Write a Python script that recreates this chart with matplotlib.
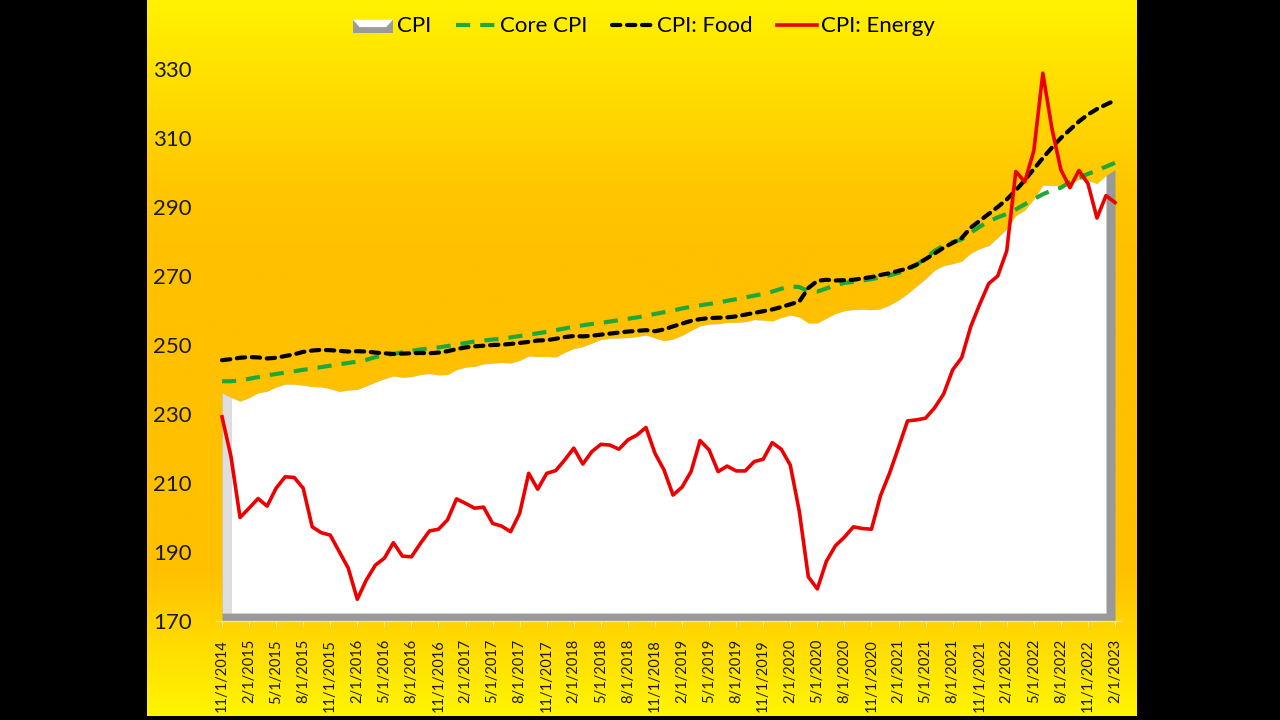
import numpy as np
import pandas as pd
import matplotlib
matplotlib.use("Agg")
import matplotlib.pyplot as plt
from matplotlib.colors import LinearSegmentedColormap
from matplotlib.lines import Line2D
from matplotlib.patches import Patch, Polygon

plt.rcParams["font.family"] = ["Lato", "DejaVu Sans"]

# monthly series, 11/1/2014 .. 2/1/2023
dates = pd.date_range("2014-11-01", periods=100, freq="MS")

cpi = [
    236.15, 234.81,
    233.71, 234.72, 236.12, 236.60, 237.81, 238.64, 238.65, 238.32, 237.95, 237.84, 237.34, 236.53,
    236.92, 237.11, 238.13, 239.26, 240.23, 241.02, 240.63, 240.85, 241.43, 241.73, 241.35, 241.43,
    242.84, 243.60, 243.80, 244.52, 244.73, 244.96, 244.79, 245.52, 246.82, 246.66, 246.67, 246.52,
    247.87, 248.99, 249.55, 250.55, 251.59, 251.99, 252.01, 252.15, 252.44, 252.89, 252.04, 251.23,
    251.71, 252.78, 254.20, 255.55, 256.09, 256.14, 256.57, 256.56, 256.76, 257.35, 257.21, 256.97,
    257.97, 258.68, 258.12, 256.39, 256.39, 257.80, 259.10, 259.92, 260.28, 260.39, 260.23, 260.47,
    261.58, 263.01, 264.88, 267.05, 269.20, 271.70, 273.00, 273.57, 274.31, 276.59, 277.95, 278.80,
    281.15, 283.72, 287.50, 289.11, 292.30, 296.31, 296.28, 296.17, 296.81, 298.01, 297.71, 296.80,
    299.17, 300.84,
]

core_cpi = [
    239.5, 239.5,
    239.7, 240.2, 240.7, 241.2, 241.6, 242.0, 242.4, 242.8, 243.2, 243.6, 244.0, 244.4,
    244.8, 245.2, 245.7, 246.5, 247.0, 247.4, 247.9, 248.3, 248.7, 249.0, 249.3, 249.7,
    250.1, 250.6, 251.0, 251.3, 251.6, 251.8, 252.2, 252.6, 253.0, 253.4, 253.8, 254.3,
    254.8, 255.3, 255.7, 256.1, 256.4, 256.8, 257.2, 257.6, 258.0, 258.5, 259.0, 259.5,
    260.0, 260.6, 261.1, 261.5, 261.9, 262.3, 262.8, 263.3, 263.8, 264.3, 264.8, 265.5,
    266.3, 267.0, 266.8, 265.6, 265.5, 266.4, 267.3, 268.0, 268.3, 268.7, 269.1, 269.6,
    270.2, 270.9, 271.8, 273.2, 275.2, 277.3, 278.8, 279.8, 280.6, 282.5, 284.3, 285.8,
    287.0, 288.0, 289.3, 290.8, 292.3, 293.7, 294.8, 295.6, 297.2, 298.5, 299.6, 300.6,
    301.7, 302.8,
]

cpi_food = [
    245.6, 245.9,
    246.3, 246.5, 246.4, 246.1, 246.3, 246.8, 247.3, 248.0, 248.4, 248.6, 248.5, 248.3,
    248.1, 248.2, 248.1, 247.8, 247.6, 247.4, 247.5, 247.6, 247.7, 247.6, 247.8, 248.2,
    248.8, 249.3, 249.6, 249.8, 250.0, 250.1, 250.3, 250.6, 250.9, 251.3, 251.4, 251.8,
    252.3, 252.6, 252.5, 252.7, 253.0, 253.3, 253.6, 253.9, 254.1, 254.3, 254.0, 254.5,
    255.4, 256.2, 257.0, 257.5, 257.8, 257.9, 258.0, 258.3, 258.8, 259.3, 259.8, 260.3,
    261.0, 261.8, 262.6, 266.5, 268.6, 268.9, 268.7, 268.8, 268.9, 269.3, 269.7, 270.3,
    270.8, 271.5, 272.2, 273.3, 274.9, 276.5, 278.2, 279.6, 281.0, 284.0, 286.0, 288.0,
    290.0, 292.2, 294.8, 297.8, 301.0, 304.2, 307.2, 310.0, 312.4, 314.8, 316.8, 318.4,
    319.7, 320.9,
]

cpi_energy = [
    229.2, 217.6,
    200.0, 202.7, 205.5, 203.3, 208.5, 211.8, 211.6, 208.5, 197.3, 195.6, 194.9, 190.1,
    185.3, 176.3, 181.9, 186.2, 188.2, 192.7, 188.8, 188.6, 192.5, 196.1, 196.6, 199.3,
    205.4, 204.1, 202.7, 203.0, 198.3, 197.5, 195.9, 201.2, 212.8, 208.2, 212.8, 213.6,
    216.7, 220.1, 215.5, 219.1, 221.2, 221.0, 219.8, 222.5, 223.9, 226.1, 218.6, 213.8,
    206.5, 208.8, 213.3, 222.3, 219.6, 213.3, 214.9, 213.5, 213.5, 216.2, 216.9, 221.7,
    219.8, 215.2, 201.8, 182.8, 179.3, 187.3, 191.8, 194.3, 197.3, 196.8, 196.6, 206.3,
    212.8, 220.3, 228.0, 228.3, 228.8, 231.8, 235.8, 242.8, 246.3, 255.3, 261.8, 267.8,
    270.0, 277.3, 300.3, 297.3, 306.3, 328.8, 312.8, 300.8, 295.6, 300.6, 296.8, 286.8,
    293.3, 291.3,
]

y_ticks = [170, 190, 210, 230, 250, 270, 290, 310, 330]
x_labels = [f"{d.month}/1/{d.year}" for d in dates[::3]]

W, H = 1280, 720
Y_MIN, Y_MAX = 170, 330
FLOOR = 172.3  # thickness of the 3D floor, in data units


class BevelHandler:
    """Legend key that looks like the bevelled 3D area swatch."""

    def legend_artist(self, legend, orig_handle, fontsize, handlebox):
        x0, y0 = handlebox.xdescent, handlebox.ydescent
        w, h = handlebox.width, handlebox.height
        box = Polygon([[x0, y0], [x0 + w, y0], [x0 + w, y0 + h], [x0, y0 + h]],
                      closed=True, facecolor="#9a9a9a", edgecolor="none",
                      transform=handlebox.get_transform())
        top = Polygon([[x0, y0 + h], [x0 + w, y0 + h], [x0 + w - h * 0.5, y0 + h * 0.45],
                       [x0 + h * 0.5, y0 + h * 0.45]],
                      closed=True, facecolor="white", edgecolor="none",
                      transform=handlebox.get_transform())
        handlebox.add_artist(box)
        handlebox.add_artist(top)
        return box


fig = plt.figure(figsize=(W / 100, H / 100), dpi=100, facecolor="black")

# yellow -> orange -> yellow background
bg_cmap = LinearSegmentedColormap.from_list("bg", [
    (0.00, "#fff200"),
    (0.10, "#ffe100"),
    (0.25, "#ffc800"),
    (0.35, "#ffc000"),
    (0.80, "#ffc000"),
    (0.88, "#ffd600"),
    (1.00, "#fff500"),
])
bg = fig.add_axes([147 / W, 4 / H, (1137 - 147) / W, 716 / H])
bg.imshow(np.linspace(0, 1, 256).reshape(-1, 1), cmap=bg_cmap, aspect="auto",
          extent=[0, 1, 0, 1])
bg.axis("off")

# plot area: category 0 at x=222px, category 99 at x=1115px
px_per_cat = (1115 - 222) / 99
x_lo, x_hi = -0.7, 99.7
left_px = 222 + x_lo * px_per_cat
right_px = 222 + x_hi * px_per_cat
ax = fig.add_axes([left_px / W, (H - 621) / H, (right_px - left_px) / W, (621 - 69) / H])
ax.patch.set_alpha(0)

idx = np.arange(len(dates))
cpi_arr = np.array(cpi)

# 3D looking CPI area: dark back/floor, light left wall, white front face
ax.fill_between(idx, Y_MIN, cpi_arr, color="#999999", lw=0, zorder=1)
ax.fill_between(idx[:2], FLOOR, cpi_arr[:2], color="#dedede", lw=0, zorder=2)
ax.fill_between(idx[1:99], FLOOR, cpi_arr[1:99], color="white", lw=0, zorder=2)

ax.plot(idx, core_cpi, color="#1fa83a", lw=3.0, dashes=(3.4, 2.4), zorder=3)
ax.plot(idx, cpi_food, color="black", lw=3.0, dashes=(2.0, 1.6),
        dash_capstyle="round", zorder=4)
ax.plot(idx, cpi_energy, color="#ec0000", lw=2.6, zorder=5)

ax.set_xlim(x_lo, x_hi)
ax.set_ylim(Y_MIN, Y_MAX)
ax.set_yticks(y_ticks)
ax.set_yticklabels([str(v) for v in y_ticks], fontsize=16, color="#1a1a1a")
ax.tick_params(axis="y", length=0, pad=17)
ax.set_xticks(idx[::3])
ax.set_xticklabels(x_labels, rotation=90, fontsize=10.5, color="#1a1a1a")
ax.tick_params(axis="x", length=4, color="#f3e3a0", pad=9)

for side in ["top", "right", "left"]:
    ax.spines[side].set_visible(False)
ax.spines["bottom"].set_color("#f3e3a0")
ax.spines["bottom"].set_linewidth(1)

cpi_key = Patch(label="CPI")
handles = [
    cpi_key,
    Line2D([], [], color="#1fa83a", lw=3.0, dashes=(3.4, 2.4), label="Core CPI"),
    Line2D([], [], color="black", lw=3.0, dashes=(2.0, 1.6), dash_capstyle="round",
           label="CPI: Food"),
    Line2D([], [], color="#ec0000", lw=2.6, label="CPI: Energy"),
]
fig.legend(handles=handles, loc="center", bbox_to_anchor=(644 / W, 1 - 26 / H),
           ncol=4, frameon=False, fontsize=16, handlelength=1.8, handleheight=0.55,
           handletextpad=0.2, columnspacing=1.1,
           handler_map={cpi_key: BevelHandler()})

fig.savefig("out.png", dpi=100, facecolor=fig.get_facecolor())
